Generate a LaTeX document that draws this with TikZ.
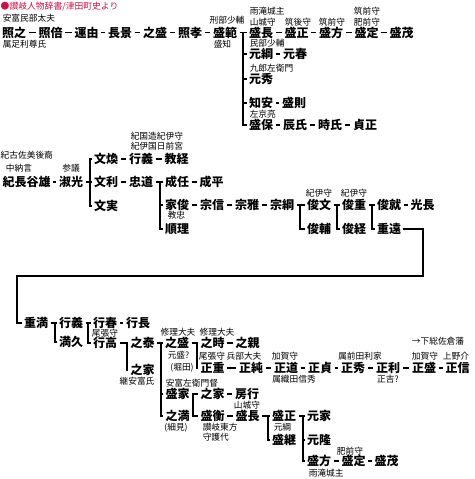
\documentclass[tikz,border=0pt]{standalone}
\usepackage{fontspec}
\usetikzlibrary{calc}
\newfontfamily\cjk{Noto Sans CJK JP}
\definecolor{red1}{RGB}{210, 16, 72}

\begin{document}
\begin{tikzpicture}[x=1pt, y=-1pt, line width=1.5pt,
  nm/.style={inner sep=1.5pt, text height=10pt, text depth=1pt, font=\cjk\bfseries\fontsize{12}{12}\selectfont},
  nt/.style={inner sep=0pt, text height=7.2pt, text depth=0.8pt, font=\cjk\fontsize{8.7}{9}\selectfont},
  ln/.style={shorten <=0.6pt, shorten >=0.6pt},
  bar/.style={line cap=rect}]
  \path[use as bounding box, fill=white] (0,0) rectangle (474,479);
  \node[nt, anchor=west, text=red1, font=\cjk\fontsize{8.8}{9}\selectfont] (ttl) at (0,6) {●讃岐人物辞書/津田町史より};

  % first line
  \node[nm] (a1) at (14,32.5) {照之};
  \node[nm] (a2) at (50.5,32.5) {照倍};
  \node[nm] (a3) at (86.5,32.5) {運由};
  \node[nm] (a4) at (120,32.5) {長景};
  \node[nm] (a5) at (155,32.5) {之盛};
  \node[nm] (a6) at (190,32.5) {照孝};
  \node[nm] (a7) at (225,32.5) {盛範};
  \node[nm] (a8) at (261,32.5) {盛長};
  \node[nm] (a9) at (296.5,32.5) {盛正};
  \node[nm] (a10) at (331,32.5) {盛方};
  \node[nm] (a11) at (366.5,32.5) {盛定};
  \node[nm] (a12) at (401.5,32.5) {盛茂};
  \node[nm] (a13) at (261,54) {元綱};
  \node[nm] (a14) at (295,54) {元春};
  \node[nm] (a15) at (261,79) {元秀};
  \node[nm] (a16) at (261,103) {知安};
  \node[nm] (a17) at (294,103) {盛則};
  \node[nm] (a18) at (261,125) {盛保};
  \node[nm] (a19) at (295,125) {辰氏};
  \node[nm] (a20) at (330,125) {時氏};
  \node[nm] (a21) at (365,125) {貞正};
  \node[nt, anchor=west] (na1) at (2,18) {安富民部太夫};
  \node[nt, anchor=west] (na2) at (2,44) {属足利尊氏};
  \node[nt] (na3) at (227,20) {刑部少輔};
  \node[nt, anchor=west] (na4) at (213,44) {盛知};
  \node[nt, anchor=west] (na5) at (249,11) {雨滝城主};
  \node[nt, anchor=west] (na6) at (249,22) {山城守};
  \node[nt] (na7) at (298,22) {筑後守};
  \node[nt] (na8) at (332,22) {筑前守};
  \node[nt] (na9) at (367,11) {筑前守};
  \node[nt] (na10) at (367,22) {肥前守};
  \node[nt, anchor=west] (na11) at (249,43) {民部少輔};
  \node[nt, anchor=west] (na12) at (249,68) {九郎左衛門};
  \node[nt, anchor=west] (na13) at (249,114) {左京亮};

  % second line
  \node[nm] (b1) at (26.5,182) {紀長谷雄};
  \node[nm] (b2) at (71,182) {淑光};
  \node[nm] (b3) at (106,159) {文煥};
  \node[nm] (b4) at (106,182) {文利};
  \node[nm] (b5) at (106,206) {文実};
  \node[nm] (b6) at (141,159) {行義};
  \node[nm] (b7) at (176.5,159) {教経};
  \node[nm] (b8) at (141,182) {忠道};
  \node[nm] (b9) at (177,182) {成任};
  \node[nm] (b10) at (211.5,182) {成平};
  \node[nm] (b11) at (177,205) {家俊};
  \node[nm] (b12) at (177,229) {順理};
  \node[nm] (b13) at (212,205) {宗信};
  \node[nm] (b14) at (247,205) {宗雅};
  \node[nm] (b15) at (282,205) {宗綱};
  \node[nm] (b16) at (319,205) {俊文};
  \node[nm] (b17) at (319,229) {俊輔};
  \node[nm] (b18) at (354,205) {俊重};
  \node[nm] (b19) at (354,229) {俊経};
  \node[nm] (b20) at (389,205) {俊就};
  \node[nm] (b21) at (422.5,205) {光長};
  \node[nm] (b22) at (389,229) {重遠};
  \node[nt, anchor=west] (nb1) at (0,155) {紀古佐美後裔};
  \node[nt] (nb2) at (19,168) {中納言};
  \node[nt] (nb3) at (71,168) {参議};
  \node[nt, anchor=west] (nb4) at (130,136) {紀国造紀伊守};
  \node[nt, anchor=west] (nb5) at (130,146) {紀伊国日前宮};
  \node[nt, anchor=west] (nb6) at (167,215) {教忠};
  \node[nt] (nb7) at (319,193) {紀伊守};
  \node[nt] (nb8) at (354,193) {紀伊守};

  % third line
  \node[nm] (c1) at (36,323) {重満};
  \node[nm] (c2) at (71,323) {行義};
  \node[nm] (c3) at (71,342) {満久};
  \node[nm] (c4) at (105,323) {行春};
  \node[nm] (c5) at (138,323) {行長};
  \node[nm] (c6) at (105,343) {行高};
  \node[nm] (c7) at (142.5,343) {之泰};
  \node[nm] (c8) at (142.5,370) {之家};
  \node[nm] (c9) at (177,343) {之盛};
  \node[nm] (c10) at (212.5,343) {之時};
  \node[nm] (c11) at (247.5,343) {之親};
  \node[nm] (c12) at (212.5,368) {正重};
  \node[nm] (c13) at (251,368) {正純};
  \node[nm] (c14) at (286,368) {正道};
  \node[nm] (c15) at (320,368) {正貞};
  \node[nm] (c16) at (353,368) {正秀};
  \node[nm] (c17) at (388,368) {正利};
  \node[nm] (c18) at (424,368) {正盛};
  \node[nm] (c19) at (457.5,368) {正信};
  \node[nm] (c20) at (177.5,394) {盛家};
  \node[nm] (c21) at (212.5,394) {之家};
  \node[nm] (c22) at (247,394) {房行};
  \node[nm] (c23) at (177.5,416) {之満};
  \node[nm] (c24) at (212.5,416) {盛衡};
  \node[nm] (c25) at (247.5,416) {盛長};
  \node[nm] (c26) at (284,416) {盛正};
  \node[nm] (c27) at (284,440) {盛継};
  \node[nm] (c28) at (319,416) {元家};
  \node[nm] (c29) at (319,440) {元隆};
  \node[nm] (c30) at (319,461) {盛方};
  \node[nm] (c31) at (353.5,461) {盛定};
  \node[nm] (c32) at (386.5,461) {盛茂};
  \node[nt] (nc1) at (105,333) {尾張守};
  \node[nt] (nc2) at (137,381) {継安富氏};
  \node[nt] (nc3) at (178,332) {修理大夫};
  \node[nt, anchor=west] (nc4) at (167,355) {元盛?};
  \node[nt] (nc5) at (182,367) {(堀田)};
  \node[nt] (nc6) at (217,332) {修理大夫};
  \node[nt] (nc7) at (212,356) {尾張守};
  \node[nt] (nc8) at (244,356) {兵部大夫};
  \node[nt] (nc9) at (285,356) {加賀守};
  \node[nt] (nc10) at (294,379) {属織田信秀};
  \node[nt] (nc11) at (360,356) {属前田利家};
  \node[nt] (nc12) at (388,379) {正吉?};
  \node[nt] (nc13) at (438,341) {→下総佐倉藩};
  \node[nt] (nc14) at (425,356) {加賀守};
  \node[nt] (nc15) at (456,356) {上野介};
  \node[nt, anchor=west] (nc16) at (165,383) {安富左衛門督};
  \node[nt] (nc17) at (247,405) {山城守};
  \node[nt] (nc18) at (176,427) {(細見)};
  \node[nt, anchor=west] (nc19) at (202,427) {讃岐東方};
  \node[nt, anchor=west] (nc20) at (202,437) {守護代};
  \node[nt, anchor=west] (nc21) at (273,427) {元綱};
  \node[nt] (nc22) at (350,451) {肥前守};
  \node[nt, anchor=west] (nc23) at (308,473) {雨滝城主};

  % bars
  \coordinate (k1) at (243,0);
  \coordinate (k2) at (90,0);
  \coordinate (k3) at (160,0);
  \coordinate (k4) at (300,0);
  \coordinate (k5) at (337,0);
  \coordinate (k6) at (372,0);
  \coordinate (k7) at (55,0);
  \coordinate (k8) at (88,0);
  \coordinate (k9) at (127,0);
  \coordinate (k10) at (161,0);
  \coordinate (k11) at (197,0);
  \coordinate (k12) at (193,0);
  \coordinate (k13) at (268,0);
  \coordinate (k14) at (303,0);
  \coordinate (t1) at (423,276);
  \coordinate (t2) at (17,276);

  \foreach \from/\to in {a1/a2, a2/a3, a3/a4, a4/a5, a5/a6, a6/a7, a8/a9, a9/a10, a10/a11, a11/a12,
    a13/a14, a16/a17, a18/a19, a19/a20, a20/a21,
    b1/b2, b3/b6, b6/b7, b4/b8, b9/b10, b11/b13, b13/b14, b14/b15, b20/b21,
    c4/c5, c10/c11, c12/c13, c13/c14, c14/c15, c15/c16, c16/c17, c17/c18, c18/c19,
    c21/c22, c24/c25, c30/c31, c31/c32}
    \draw[ln] (\from) -- (\to);
  \foreach \p/\k in {a7/k1, b2/k2, b8/k3, b15/k4, b16/k5, b18/k6, c1/k7, c2/k8, c6/k9, c7/k10, c9/k11, c20/k12, c25/k13, c26/k14}
    \draw[shorten <=0.6pt] (\p.east) -- (\k |- \p);
  \foreach \k/\f/\l in {k1/a8/a18, k2/b3/b5, k3/b9/b12, k4/b16/b17, k5/b18/b19, k6/b20/b22, k7/c2/c3, k8/c4/c6,
    k9/c7/c8, k10/c9/c23, k11/c10/c12, k12/c21/c24, k13/c26/c27, k14/c28/c30}
    \draw[bar] (\k |- \f) -- (\k |- \l);
  \foreach \k/\c in {k1/a8, k1/a13, k1/a15, k1/a16, k1/a18, k2/b3, k2/b4, k2/b5, k3/b9, k3/b11, k3/b12,
    k4/b16, k4/b17, k5/b18, k5/b19, k6/b20, k6/b22, k7/c2, k7/c3, k8/c4, k8/c6, k9/c7, k9/c8,
    k10/c9, k10/c20, k10/c23, k11/c10, k11/c12, k12/c21, k12/c24, k13/c26, k13/c27, k14/c28, k14/c29, k14/c30}
    \draw (\k |- \c) -- (\c.west);
  \draw[line join=miter] (b22.east) -| (t1) -- (t2) |- (c1.west);
\end{tikzpicture}
\end{document}
